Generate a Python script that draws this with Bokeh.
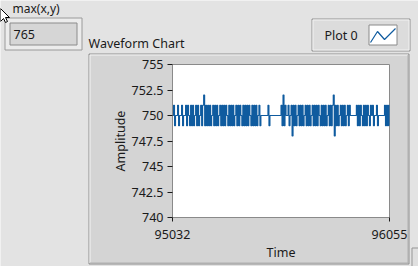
import numpy as np
from bokeh.plotting import figure
from bokeh.layouts import column
from bokeh.models import Range1d, FixedTicker
from bokeh.core.properties import value
from bokeh.embed import file_html
from bokeh.resources import INLINE

# ---------------- data ----------------
time_start = 95032
time_end = 96055
amplitude = [
    750, 751, 749, 750, 750, 751, 749, 750, 750, 751, 749, 750, 750,
    751, 749, 751, 750, 749, 751, 749, 751, 749, 750,
    751, 749, 751, 749, 750, 751, 749, 751, 752, 749,
    751, 749, 751, 749, 751, 749, 750, 751, 749, 751,
    749, 751, 749, 750, 751, 749, 751, 749, 751, 749,
    751, 750, 749, 751, 749, 751, 749, 751, 749, 750,
    751, 749, 751, 749, 751, 750, 749, 751, 749, 751,
    749, 751, 749, 751, 750, 749, 751, 749, 751, 749,
    751, 749, 750, 751, 749, 750,
    750, 750, 750, 750, 750, 750,
    751, 749, 750,
    750, 750, 750, 750, 750, 750, 750, 750, 750, 750,
    751, 749, 752, 749, 751, 750,
    750, 751, 749, 750, 751, 748,
    751, 749, 751, 749, 750, 751, 749, 751, 749, 751,
    749, 750, 751, 749, 751, 749, 751, 749, 750, 751,
    749, 751, 749, 751, 749, 751, 750, 749, 751, 749,
    751, 749, 751, 749, 750, 751, 749, 751, 749, 751,
    752, 748, 751, 749, 751, 749, 750, 751, 749, 751,
    749, 751, 749, 750, 751, 749, 751, 750,
    750, 750, 750, 750, 750,
    751, 749, 751, 749, 751, 750, 749, 751, 749, 751, 749, 751, 750, 749, 751,
    750, 751, 749, 750, 750, 751, 749,
    750, 750, 750, 750, 750, 750,
    751, 749, 751, 749, 751, 749,
]
y_ticks = [740, 742.5, 745, 747.5, 750, 752.5, 755]
y_tick_labels = ["740", "742.5", "745", "747.5", "750", "752.5", "755"]
x_ticks = [95032, 96055]
x_tick_labels = ["95032", "96055"]
chart_title = "Waveform Chart"
x_title = "Time"
y_title = "Amplitude"
legend_label = "Plot 0"
indicator_label = "max(x,y)"
indicator_value = "765"

# ---------------- styling / layout ----------------
W, H = 418, 266
FL, FT, FR, FB = 172, 64, 389, 217                  # plot area
FONT = "Noto Sans"
FS = "12.5px"
TXT = "#1a1a1a"
OUTER = "#e3e3e3"
INNER = "#d4d4d4"
EDGE = "#8e8e8e"
LINE = "#0f5b9f"

# ---- background panel (front-panel decorations), pixel coordinates ----
d = figure(width=W, height=H, output_backend="svg", toolbar_location=None,
           x_axis_location=None, y_axis_location=None,
           x_range=Range1d(0, W), y_range=Range1d(H, 0), min_border=0)
d.frame_align = False
d.grid.visible = False
d.outline_line_color = None
d.background_fill_color = OUTER
d.border_fill_color = OUTER


def text(x, y, s, size=FS):
    d.text(x=[x], y=[y], text=[s], text_font=value(FONT),
           text_font_size=value(size), text_color=TXT,
           text_align="left", text_baseline="middle")


# chart frame box
d.quad(left=88.5, right=408.5, top=53.5, bottom=263.5,
       fill_color=INNER, line_color=EDGE)
d.line([89.5, 89.5, 407.5], [262.5, 54.5, 54.5], line_color="#f4f4f4")
d.line([89.5, 407.5, 407.5], [262.5, 262.5, 54.5], line_color="#b0b0b0")
# partial control at bottom right
d.quad(left=411.5, right=W + 3, top=247.5, bottom=H + 3,
       fill_color="#e0e0e0", line_color="#959595")
# numeric indicator
d.quad(left=4.5, right=81.5, top=17.5, bottom=49.5,
       fill_color="#ececec", line_color="#9a9a9a")
d.quad(left=9.5, right=76.5, top=22.5, bottom=44.5,
       fill_color="#d6d6d6", line_color="#8c8c8c")
text(13, 33.5, indicator_value)
text(12, 8, indicator_label, size="12px")
text(88, 43, chart_title)
# plot legend
d.quad(left=311.5, right=409.5, top=18.5, bottom=50.5,
       fill_color="#dcdcdc", line_color="#929292")
d.quad(left=312.5, right=408.5, top=19.5, bottom=49.5,
       fill_color=None, line_color="#f2f2f2")
text(324, 35, legend_label)
d.quad(left=368.5, right=396.5, top=24.5, bottom=44.5,
       fill_color="white", line_color="#8a8a8a")
d.line([370, 377, 384, 395], [42, 31, 39, 28], line_color=LINE, line_width=1.2)
# mouse cursor
d.patch([0, 0, 3, 5, 7, 5, 9], [8, 21, 18, 22, 21, 17, 17],
        fill_color="white", line_color="black")

# ---- the waveform chart, laid over the panel ----
p = figure(width=W, height=H, output_backend="svg", toolbar_location=None,
           x_range=Range1d(time_start, time_end), y_range=Range1d(740, 755),
           min_border_left=FL, min_border_right=W - FR,
           min_border_top=FT, min_border_bottom=H - FB)
p.frame_align = False
p.border_fill_color = None
p.border_fill_alpha = 0
p.background_fill_color = "white"
p.outline_line_color = "#8a8a8a"
p.grid.visible = False
p.margin = (-H, 0, 0, 0)

x = np.linspace(time_start, time_end, len(amplitude))
p.step(x, amplitude, mode="after", line_color=LINE, line_width=1.1)

for ax in (p.xaxis[0], p.yaxis[0]):
    ax.major_label_text_font = FONT
    ax.major_label_text_font_size = FS
    ax.major_label_text_color = TXT
    ax.axis_label_text_font = FONT
    ax.axis_label_text_font_size = FS
    ax.axis_label_text_font_style = "normal"
    ax.axis_label_text_color = TXT
    ax.major_tick_in = 0
    ax.minor_tick_line_color = None
    ax.major_tick_line_color = TXT
    ax.axis_line_color = None

p.yaxis.ticker = FixedTicker(ticks=y_ticks)
p.yaxis.major_label_overrides = dict(zip(y_ticks, y_tick_labels))
p.yaxis.major_tick_out = 5
p.yaxis.major_label_standoff = 4
p.yaxis.axis_label = y_title
p.yaxis.axis_label_standoff = 0

p.xaxis.ticker = FixedTicker(ticks=x_ticks)
p.xaxis.major_label_overrides = dict(zip(x_ticks, x_tick_labels))
p.xaxis.major_tick_out = 4
p.xaxis.major_label_standoff = 8
p.xaxis.axis_label = x_title
p.xaxis.axis_label_standoff = 2

layout = column(d, p)

open("out.html", "w").write(file_html(layout, INLINE))
